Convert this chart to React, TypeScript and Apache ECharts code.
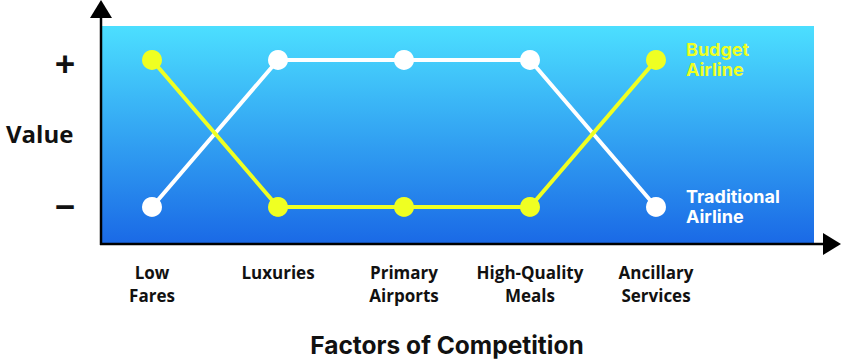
import React, { useEffect, useRef } from "react";
import * as echarts from "echarts";

const categories = ["Low\nFares", "Luxuries", "Primary\nAirports", "High-Quality\nMeals", "Ancillary\nServices"];
const budgetAirline = [1, 0, 0, 0, 1];
const traditionalAirline = [0, 1, 1, 1, 0];
const seriesNames = ["Budget\nAirline", "Traditional\nAirline"];
const yTickLabels = ["+", "\u2212"];

const YELLOW = "#EFFF22";
const WHITE = "#FFFFFF";

function lastLabel(data: number[], text: string, color: string) {
  return data.map((v, i) =>
    i === data.length - 1
      ? {
          value: v,
          label: {
            show: true,
            position: "right",
            distance: 20,
            formatter: text,
            color,
            fontSize: 18,
            fontWeight: "bold",
            fontFamily: "Inter",
            lineHeight: 20,
            align: "left",
          },
        }
      : v
  );
}

export default function App() {
  const ref = useRef<HTMLDivElement>(null);
  useEffect(() => {
    if (!ref.current) return;
    const chart = echarts.init(ref.current, undefined, { renderer: "svg" });
    chart.setOption({
      animation: false,
      grid: { left: 152, right: 185, top: 26, bottom: 120 },
      xAxis: {
        type: "category",
        data: categories,
        boundaryGap: false,
        axisLine: { show: false },
        axisTick: { show: true, length: 10, lineStyle: { color: "#000", width: 2 } },
        axisLabel: {
          interval: 0,
          margin: 17,
          fontSize: 17,
          fontWeight: "bold",
          fontFamily: "Open Sans",
          color: "#111",
          lineHeight: 23,
        },
        splitLine: { show: false },
      },
      yAxis: {
        type: "value",
        min: -0.252,
        max: 1.231,
        axisLine: { show: false },
        axisTick: { show: false },
        axisLabel: { show: false },
        splitLine: { show: false },
      },
      graphic: [
        {
          type: "rect",
          z: 0,
          silent: true,
          shape: { x: 101, y: 26, width: 713, height: 218 },
          style: {
            fill: {
              type: "linear",
              x: 0,
              y: 0,
              x2: 0,
              y2: 1,
              colorStops: [
                { offset: 0, color: "#4CDFFF" },
                { offset: 1, color: "#1A69E6" },
              ],
            },
          },
        },
        {
          type: "line",
          z: 1,
          shape: { x1: 101, y1: 14, x2: 101, y2: 245 },
          style: { stroke: "#000", lineWidth: 2.5 },
        },
        {
          type: "polygon",
          z: 1,
          shape: { points: [[101, 0], [90, 18], [112, 18]] },
          style: { fill: "#000" },
        },
        {
          type: "line",
          z: 1,
          shape: { x1: 100, y1: 244, x2: 828, y2: 244 },
          style: { stroke: "#000", lineWidth: 2.5 },
        },
        {
          type: "polygon",
          z: 1,
          shape: { points: [[841, 244], [823, 233], [823, 255]] },
          style: { fill: "#000" },
        },
        {
          type: "text",
          x: 65,
          y: 63,
          style: {
            text: yTickLabels[0],
            fontSize: 36,
            fontWeight: "bold",
            fontFamily: "Open Sans",
            fill: "#111",
            textAlign: "center",
            textVerticalAlign: "middle",
          },
        },
        {
          type: "text",
          x: 65,
          y: 206,
          style: {
            text: yTickLabels[1],
            fontSize: 36,
            fontWeight: "bold",
            fontFamily: "Open Sans",
            fill: "#111",
            textAlign: "center",
            textVerticalAlign: "middle",
          },
        },
        {
          type: "text",
          x: 6,
          y: 133,
          style: {
            text: "Value",
            fontSize: 24,
            fontWeight: "bold",
            fontFamily: "Open Sans",
            fill: "#111",
            textAlign: "left",
            textVerticalAlign: "middle",
          },
        },
        {
          type: "text",
          x: 447,
          y: 345,
          style: {
            text: "Factors of Competition",
            fontSize: 24.5,
            fontWeight: "bold",
            fontFamily: "Inter",
            fill: "#111",
            textAlign: "center",
            textVerticalAlign: "middle",
          },
        },
      ],
      series: [
        {
          name: "Traditional Airline",
          type: "line",
          data: lastLabel(traditionalAirline, seriesNames[1], WHITE),
          symbol: "circle",
          symbolSize: 20,
          lineStyle: { color: WHITE, width: 4 },
          itemStyle: { color: WHITE },
          z: 3,
        },
        {
          name: "Budget Airline",
          type: "line",
          data: lastLabel(budgetAirline, seriesNames[0], YELLOW),
          symbol: "circle",
          symbolSize: 20,
          lineStyle: { color: YELLOW, width: 4 },
          itemStyle: { color: YELLOW },
          z: 4,
        },
      ],
    });
    return () => chart.dispose();
  }, []);
  return <div ref={ref} style={{ width: 841, height: 364, position: "absolute", left: 0, top: 0 }} />;
}
